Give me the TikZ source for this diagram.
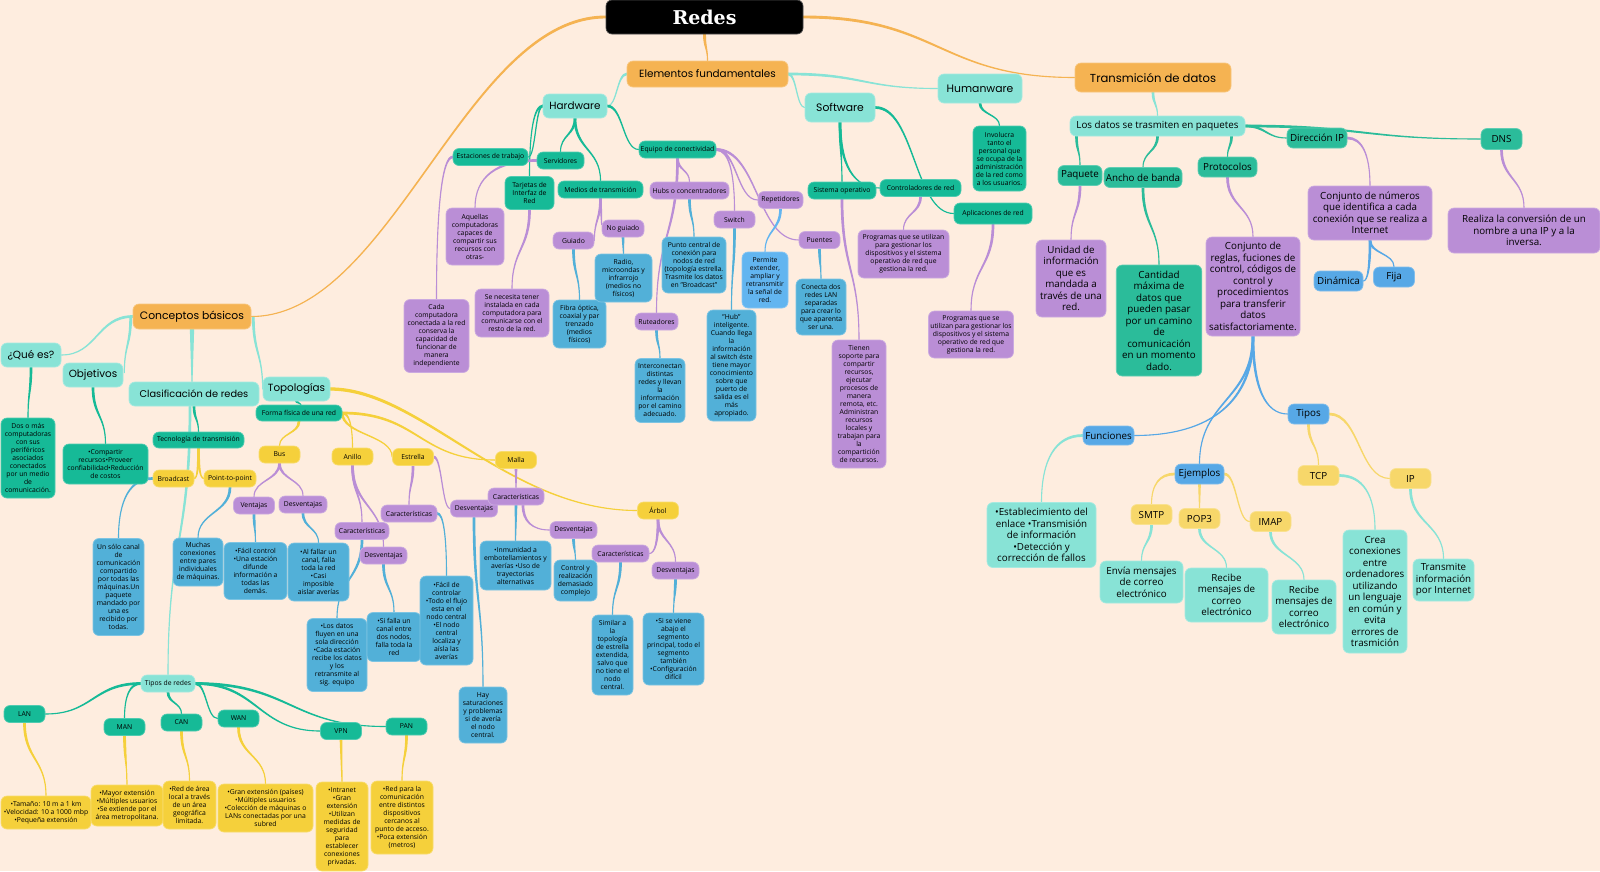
\documentclass[tikz,border=0pt]{standalone}
\usepackage{fontspec}
\setmainfont{Open Sans}
\newfontfamily\hwfont{Poppins}
\newfontfamily\slabfont{DejaVu Serif}
\usetikzlibrary{calc,backgrounds}
\definecolor{paper}{HTML}{FEEDDF}
\definecolor{cOr}{HTML}{F5B352}
\definecolor{cMi}{HTML}{88E3D6}
\definecolor{cGr}{HTML}{16BA97}
\definecolor{cGq}{HTML}{2BBC9A}
\definecolor{cPu}{HTML}{BA8ED6}
\definecolor{cBl}{HTML}{52B0D8}
\definecolor{cLb}{HTML}{62B5F0}
\definecolor{cDb}{HTML}{57A8E6}
\definecolor{cYe}{HTML}{F5D03B}
\definecolor{cYl}{HTML}{F7D76A}
\tikzset{
 box/.style={rounded corners=6pt,inner sep=0pt,align=center,text=black,line width=.7pt,font=\fontsize{6.8}{8}\selectfont},
 big/.style={font=\fontsize{9.8}{11.5}\selectfont},
 nOr/.style={box,fill=cOr,draw=cOr!75!white},
 nMi/.style={box,fill=cMi,draw=cMi!75!white},
 nGr/.style={box,fill=cGr,draw=cGr!75!white},
 nGq/.style={box,fill=cGq,draw=cGq!75!white},
 nPu/.style={box,fill=cPu,draw=cPu!75!white},
 nBl/.style={box,fill=cBl,draw=cBl!75!white},
 nLb/.style={box,fill=cLb,draw=cLb!75!white},
 nDb/.style={box,fill=cDb,draw=cDb!75!white},
 nYe/.style={box,fill=cYe,draw=cYe!75!white},
 nYl/.style={box,fill=cYl,draw=cYl!75!white},
}
\newcommand\hd[2]{{\hwfont\fontsize{#1}{#1}\selectfont #2}}
\newcommand\nd[7]{\node[#6,minimum width=#4pt,minimum height=#5pt] (#1) at (#2,#3) {#7};}
\newcommand\lkbody[2]{\draw[#1,fill=#1,line width=1.1pt,line join=round] ($(cP)+(#2)$) .. controls ($(cA)+(#2)$) and (cB) .. (cC) .. controls (cB) and ($(cA)-(#2)$) .. ($(cP)-(#2)$) -- cycle;}
\newcommand\lkV[4][.8]{\path (#3) coordinate (cP) (#4) coordinate (cC);\path ($(cP)!.5!(cP |- cC)$) coordinate (cA) ($(cC)!.5!(cC |- cP)$) coordinate (cB);\lkbody{#2}{#1,0}}
\newcommand\lkH[4][.8]{\path (#3) coordinate (cP) (#4) coordinate (cC);\path ($(cP)!.5!(cC |- cP)$) coordinate (cA) ($(cC)!.5!(cP |- cC)$) coordinate (cB);\lkbody{#2}{0,#1}}
\newcommand\lkHV[4][.8]{\path (#3) coordinate (cP) (#4) coordinate (cC);\path ($(cP)!.65!(cC |- cP)$) coordinate (cA) ($(cC)!.65!(cC |- cP)$) coordinate (cB);\lkbody{#2}{0,#1}}
\newcommand\lkVH[4][.8]{\path (#3) coordinate (cP) (#4) coordinate (cC);\path ($(cP)!.65!(cP |- cC)$) coordinate (cA) ($(cC)!.65!(cP |- cC)$) coordinate (cB);\lkbody{#2}{#1,0}}
\begin{document}
\begin{tikzpicture}[x=1pt,y=-1pt]
\useasboundingbox (0,0) rectangle (1600,871);
% --- level 0/1
\node[box,fill=black,draw=black!70!white,minimum width=197pt,minimum height=34pt,text=white,font=\slabfont\bfseries\fontsize{19}{20}\selectfont] (redes) at (704.5,17) {Redes};
\nd{elem}{707.5}{74}{161}{26}{nOr}{\hd{10.4}{Elementos fundamentales}}
\nd{trans}{1153}{77.5}{156}{29}{nOr}{\hd{11.6}{Transmición de datos}}
\nd{conc}{192}{316.5}{118}{25}{nOr}{\hd{10.8}{Conceptos básicos}}
% --- mint headings
\nd{hard}{575}{106}{64}{24}{nMi}{\hd{10.4}{Hardware}}
\nd{soft}{840}{107.5}{70}{29}{nMi}{\hd{10.8}{Software}}
\nd{human}{980}{88.5}{84}{29}{nMi}{\hd{10.8}{Humanware}}
\nd{que}{31}{355}{60}{24}{nMi}{\hd{10.4}{¿Qué es?}}
\nd{obj}{93}{375}{60}{24}{nMi}{\hd{10.4}{Objetivos}}
\nd{clas}{194}{394}{130}{24}{nMi}{\hd{9.8}{Clasificación de redes}}
\nd{topo}{296.5}{389}{67}{24}{nMi}{\hd{10.4}{Topologías}}
% --- Hardware
\nd{esta}{490.5}{157}{75}{17}{nGr}{Estaciones de trabajo}
\nd{serv}{560.5}{160.5}{47}{17}{nGr}{Servidores}
\nd{tarj}{529.5}{193}{49}{33}{nGr}{Tarjetas de\\Interfaz de\\Red}
\nd{medi}{600.5}{189.5}{85}{17}{nGr}{Medios de transmición}
\nd{equi}{677.5}{149.5}{77}{17}{nGr}{Equipo de conectividad}
\nd{hubs}{689.5}{190.5}{79}{17}{nPu}{Hubs o concentradores}
\nd{repe}{780.5}{200}{45}{17}{nPu}{Repetidores}
\nd{swit}{734.5}{219.5}{41}{17}{nPu}{Switch}
\nd{nogu}{623}{228.5}{42}{17}{nPu}{No guiado}
\nd{guia}{573.5}{240.5}{41}{17}{nPu}{Guiado}
\nd{puen}{819.5}{240}{41}{17}{nPu}{Puentes}
\nd{aque}{475}{236.5}{58}{57}{nPu}{Aquellas\\computadoras\\capaces de\\compartir sus\\recursos con\\otras-}
\nd{cada}{436.5}{336}{65}{73}{nPu}{Cada\\computadora\\conectada a la red\\conserva la\\capacidad de\\funcionar de\\manera\\independiente}
\nd{sene}{512}{313}{74}{48}{nPu}{Se necesita tener\\instalada en cada\\computadora para\\comunicarse con el\\resto de la red.}
\nd{fibr}{579.5}{324}{53}{48}{nBl}{Fibra óptica,\\coaxial y par\\trenzado\\(medios\\físicos)}
\nd{radi}{623.5}{278}{57}{48}{nBl}{Radio,\\microondas y\\infrarrojo\\(medios no\\físicos)}
\nd{punt}{694}{265}{64}{56}{nBl}{Punto central de\\conexión para\\nodos de red\\(topología estrella.\\Trasmite los datos\\en "Broadcast"}
\nd{rute}{656.5}{321.5}{43}{17}{nPu}{Ruteadores}
\nd{inte}{660}{390.5}{50}{64}{nBl}{Interconectan\\distintas\\redes y llevan\\la\\información\\por el camino\\adecuado.}
\nd{hubi}{731.5}{365.5}{49}{111}{nBl}{"Hub"\\inteligente.\\Cuando llega\\la\\información\\al switch éste\\tiene mayor\\conocimiento\\sobre que\\puerto de\\salida es el\\más\\apropiado.}
\nd{perm}{765}{280}{46}{56}{nLb}{Permite\\extender,\\ampliar y\\retransmitir\\la señal de\\red.}
\nd{cone}{821}{307}{50}{56}{nBl}{Conecta dos\\redes LAN\\separadas\\para crear lo\\que aparenta\\ser una.}
% --- Software
\nd{sist}{842}{190.5}{68}{17}{nGr}{Sistema operativo}
\nd{ctrl}{920.5}{188}{81}{17}{nGr}{Controladores de red}
\nd{apli}{993}{213.5}{78}{21}{nGr}{Aplicaciones de red}
\nd{tien}{859}{404}{54}{128}{nPu}{Tienen\\soporte para\\compartir\\recursos,\\ejecutar\\procesos de\\manera\\remota, etc.\\Administran\\recursos\\locales y\\trabajan para\\la\\compartición\\de recursos.}
\nd{prga}{903.5}{254}{91}{48}{nPu}{Programas que se utilizan\\para gestionar los\\dispositivos y el sistema\\operativo de red que\\gestiona la red.}
\nd{prgb}{971}{334.5}{85}{47}{nPu}{Programas que se\\utilizan para gestionar los\\dispositivos y el sistema\\operativo de red que\\gestiona la red.}
\nd{invo}{999.5}{158.5}{53}{65}{nGr}{Involucra\\tanto el\\personal que\\se ocupa de la\\administración\\de la red como\\a los usuarios.}
% --- Transmision
\nd{dato}{1157.5}{126}{175}{20}{nMi,big}{Los datos se trasmiten en paquetes}
\nd{paqu}{1080}{175.5}{44}{20}{nGq,big}{Paquete}
\nd{anch}{1143}{177.5}{78}{20}{nGq,big}{Ancho de banda}
\nd{prot}{1227.5}{167}{59}{20}{nGq,big}{Protocolos}
\nd{dire}{1317}{138}{60}{20}{nGq,big}{Dirección IP}
\nd{dns}{1501.5}{139}{41}{21}{nGq,big}{DNS}
\nd{unid}{1071}{278.5}{70}{77}{nPu,big}{Unidad de\\información\\que es\\mandada a\\través de una\\red.}
\nd{cant}{1159}{320.5}{85.5}{111}{nGq,big}{Cantidad\\máxima de\\datos que\\pueden pasar\\por un camino\\de\\comunicación\\en un momento\\dado.}
\nd{regl}{1253}{286.5}{94}{99}{nPu,big}{Conjunto de\\reglas, fuciones de\\control, códigos de\\control y\\procedimientos\\para transferir\\datos\\satisfactoriamente.}
\nd{nume}{1370}{213}{124}{54}{nPu,big}{Conjunto de números\\que identifica a cada\\conexión que se realiza a\\Internet}
\nd{real}{1524}{230.5}{152}{45}{nPu,big}{Realiza la conversión de un\\nombre a una IP y a la\\inversa.}
\nd{dina}{1338.5}{281}{49}{20}{nDb,big}{Dinámica}
\nd{fija}{1394}{277}{41}{20}{nDb,big}{Fija}
\nd{tipo}{1308.5}{414}{41}{20}{nDb,big}{Tipos}
\nd{func}{1108.5}{435.5}{51}{19}{nDb,big}{Funciones}
\nd{ejem}{1199.5}{474}{49}{20}{nDb,big}{Ejemplos}
\nd{tcp}{1318.5}{475.5}{41}{20}{nYl,big}{TCP}
\nd{ipn}{1410.5}{478.5}{41}{20}{nYl,big}{IP}
\nd{smtp}{1151.5}{514.5}{41}{20}{nYl,big}{SMTP}
\nd{pop}{1199.5}{518.5}{41}{20}{nYl,big}{POP3}
\nd{imap}{1270.5}{521.5}{41}{20}{nYl,big}{IMAP}
\nd{esbl}{1041.5}{535}{109}{65}{nMi,big}{•Establecimiento del\\enlace •Transmisión\\de información\\•Detección y\\corrección de fallos}
\nd{envi}{1141.5}{582}{83}{42}{nMi,big}{Envía mensajes\\de correo\\electrónico}
\nd{reca}{1226.5}{595}{83}{54}{nMi,big}{Recibe\\mensajes de\\correo\\electrónico}
\nd{recb}{1304}{607}{64}{54}{nMi,big}{Recibe\\mensajes de\\correo\\electrónico}
\nd{crea}{1375}{591.5}{64}{123}{nMi,big}{Crea\\conexiones\\entre\\ordenadores\\utilizando\\un lenguaje\\en común y\\evita\\errores de\\trasmición}
\nd{tran}{1443.5}{580}{61}{42}{nMi,big}{Transmite\\información\\por Internet}
% --- Conceptos
\nd{dosm}{28}{458}{54}{80}{nGr}{Dos o más\\computadoras\\con sus\\periféricos\\asociados\\conectados\\por un medio\\de\\comunicación.}
\nd{comp}{105.5}{464}{85}{40}{nGr}{•Compartir\\recursos•Proveer\\confiabilidad•Reducción\\de costos}
\nd{form}{299}{413}{86}{16}{nGr}{Forma física de una red}
\nd{tecn}{198.5}{440}{91}{16}{nGr}{Tecnología de transmisión}
\nd{broa}{173.5}{478.5}{41}{17}{nYe}{Broadcast}
\nd{poin}{230}{478.5}{52}{17}{nYe}{Point-to-point}
\nd{bus}{279.5}{454.5}{41}{17}{nYe}{Bus}
\nd{anil}{352.5}{456.5}{41}{17}{nYe}{Anillo}
\nd{estr}{413}{457}{41}{17}{nYe}{Estrella}
\nd{mall}{516}{460}{41}{17}{nYe}{Malla}
\nd{arbo}{658}{510.5}{41}{17}{nYe}{Árbol}
\nd{vent}{254}{505.5}{41}{17}{nPu}{Ventajas}
\nd{dbus}{303}{504.5}{48}{17}{nPu}{Desventajas}
\nd{canl}{362}{531}{54}{17}{nPu}{Características}
\nd{danl}{383.5}{555.5}{47}{17}{nPu}{Desventajas}
\nd{cest}{409}{513.5}{56}{17}{nPu}{Características}
\nd{dest}{474}{508.5}{47}{17}{nPu}{Desventajas}
\nd{cmal}{516}{496.5}{56}{17}{nPu}{Características}
\nd{dmal}{573.5}{530}{47}{17}{nPu}{Desventajas}
\nd{carb}{620.5}{553.5}{57}{17}{nPu}{Características}
\nd{darb}{675.5}{570.5}{47}{17}{nPu}{Desventajas}
\nd{unso}{118.5}{587}{51}{97}{nBl}{Un sólo canal\\de\\comunicación\\compartido\\por todas las\\máquinas.Un\\paquete\\mandado por\\una es\\recibido por\\todas.}
\nd{much}{198}{562}{50}{48}{nBl}{Muchas\\conexiones\\entre pares\\individuales\\de máquinas.}
\nd{facc}{255.5}{571}{63}{57}{nBl}{•Fácil control\\•Una estación\\difunde\\información a\\todas las\\demás.}
\nd{alfa}{318.5}{572}{61}{58}{nBl}{•Al fallar un\\canal, falla\\toda la red\\•Casi\\imposible\\aislar averías}
\nd{losd}{337}{655}{60}{73}{nBl}{•Los datos\\fluyen en una\\sola dirección\\•Cada estación\\recibe los datos\\y los\\retransmite al\\sig. equipo}
\nd{sifa}{394}{637}{54}{49}{nBl}{•Si falla un\\canal entre\\dos nodos,\\falla toda la\\red}
\nd{facd}{446.5}{620.5}{53}{89}{nBl}{•Fácil de\\controlar\\•Todo el flujo\\esta en el\\nodo central\\•El nodo\\central\\localiza y\\aísla las\\averías}
\nd{inmu}{515.5}{565.5}{71}{49}{nBl}{•Inmunidad a\\embotellamientos y\\averías •Uso de\\trayectorias\\alternativas}
\nd{ctry}{575.5}{580.5}{43}{41}{nBl}{Control y\\realización\\demasiado\\complejo}
\nd{simi}{612.5}{655}{41}{80}{nBl}{Similar a\\la\\topología\\de estrella\\extendida,\\salvo que\\no tiene el\\nodo\\central.}
\nd{sise}{673.5}{649}{61}{72}{nBl}{•Si se viene\\abajo el\\segmento\\principal, todo el\\segmento\\también\\•Configuración\\difícil}
\nd{hays}{483}{715}{48}{56}{nBl}{Hay\\saturaciones\\y problemas\\si de avería\\el nodo\\central.}
% --- Tipos de redes
\nd{tipr}{168}{683.5}{54}{17}{nMi}{Tipos de redes}
\nd{lan}{24.5}{714}{41}{17}{nGr}{LAN}
\nd{man}{124.5}{727}{41}{17}{nGr}{MAN}
\nd{can}{181.5}{722.5}{41}{17}{nGr}{CAN}
\nd{wan}{238.5}{718.5}{41}{17}{nGr}{WAN}
\nd{vpn}{341}{731}{41}{17}{nGr}{VPN}
\nd{pan}{406.5}{726.5}{41}{17}{nGr}{PAN}
\nd{tama}{46}{812.5}{90}{33}{nYe}{•Tamaño: 10 m a 1 km\\•Velocidad: 10 a 1000 mbp\\•Pequeña extensión}
\nd{mayo}{127}{805.5}{72}{41}{nYe}{•Mayor extensión\\•Múltiples usuarios\\•Se extiende por el\\área metropolitana.}
\nd{rede}{189.5}{805}{53}{48}{nYe}{•Red de área\\local a través\\de un área\\geográfica\\limitada.}
\nd{gran}{265.5}{808}{95}{48}{nYe}{•Gran extensión (países)\\•Múltiples usuarios\\•Colección de máquinas o\\LANs conectadas por una\\subred}
\nd{intr}{342}{826.5}{52}{89}{nYe}{•Intranet\\•Gran\\extensión\\•Utilizan\\medidas de\\seguridad\\para\\establecer\\conexiones\\privadas.}
\nd{repa}{402}{817.5}{62}{73}{nYe}{•Red para la\\comunicación\\entre distintos\\dispositivos\\cercanos al\\punto de acceso.\\•Poca extensión\\(metros)}
% ===== connectors
\begin{scope}[on background layer]
\fill[paper] (0,0) rectangle (1600,871);
\path (redes.west) coordinate (cP) (conc.east) coordinate (cC);
\path ($(cP)+(-140,0)$) coordinate (cA) ($(cC)+(140,0)$) coordinate (cB);
\lkbody{cOr}{0,.9}
\lkV[.9]{cOr}{redes.south}{elem.north}
\lkH[.9]{cOr}{redes.east}{trans.west}
\lkH{cMi}{elem.west}{hard.east}
\lkH{cMi}{elem.east}{soft.west}
\lkH{cMi}{elem.east}{human.west}
\lkH{cMi}{conc.west}{que.east}
\lkV{cMi}{$(conc.south west)+(-2,-12)$}{$(obj.north east)+(1,10)$}
\lkV[1.6]{cMi}{conc.south}{$(clas.north)+(-2,0)$}
\lkV{cMi}{$(conc.south east)+(2,-12)$}{$(topo.west)$}
\lkV{cMi}{$(clas.south)+(-4,0)$}{tipr.north}
\lkV{cGr}{clas.south}{$(tecn.north)+(0,0)$}
\lkV{cGr}{$(topo.south)+(0,0)$}{$(form.north)+(2,0)$}
\lkV{cGr}{que.south}{dosm.north}
\lkV{cGr}{obj.south}{comp.north}
\lkVH{cYe}{tecn.south}{broa.east}
\lkVH{cYe}{tecn.south}{poin.west}
\lkHV{cBl}{broa.west}{unso.north}
\lkV{cBl}{poin.south}{much.north}
\lkV{cYe}{form.south}{bus.north}
\lkHV{cYe}{form.east}{anil.north}
\lkV{cYe}{form.east}{estr.west}
\lkH{cYe}{form.east}{mall.west}
\path (topo.east) coordinate (cP) (arbo.west) coordinate (cC);
\path ($(cP)+(90,0)$) coordinate (cA) ($(cC)+(-130,0)$) coordinate (cB);
\lkbody{cYe}{0,1.1}
\lkV{cPu}{bus.south}{vent.north}
\lkV{cPu}{bus.south}{dbus.north}
\lkV{cBl}{vent.south}{facc.north}
\lkV{cBl}{dbus.south}{alfa.north}
\lkV{cPu}{anil.south}{canl.north}
\lkV{cPu}{anil.south}{danl.north}
\lkV{cBl}{canl.south}{losd.north}
\lkV{cBl}{danl.south}{sifa.north}
\lkV{cPu}{estr.south}{cest.north}
\lkH{cPu}{estr.east}{dest.west}
\lkHV{cBl}{cest.east}{facd.north}
\lkV{cBl}{dest.south}{hays.north}
\lkV{cPu}{mall.south}{cmal.north}
\lkV{cBl}{cmal.south}{inmu.north}
\lkVH{cPu}{$(cmal.south)+(7,0)$}{dmal.west}
\lkV{cBl}{dmal.south}{ctry.north}
\lkVH{cPu}{arbo.south}{carb.east}
\lkV{cPu}{arbo.south}{darb.north}
\lkV{cBl}{carb.south}{simi.north}
\lkV{cBl}{darb.south}{sise.north}
\lkH{cGr}{tipr.west}{lan.east}
\lkHV{cGr}{tipr.west}{man.north}
\lkV{cGr}{tipr.south}{can.north}
\lkH{cGr}{tipr.east}{wan.west}
\lkH{cGr}{tipr.east}{vpn.west}
\lkH{cGr}{tipr.east}{pan.west}
\lkV{cYe}{lan.south}{tama.north}
\lkV{cYe}{man.south}{mayo.north}
\lkV{cYe}{can.south}{rede.north}
\lkV{cYe}{wan.south}{gran.north}
\lkV{cYe}{vpn.south}{intr.north}
\lkV{cYe}{pan.south}{repa.north}
% hardware
\lkH{cGr}{hard.west}{esta.east}
\lkHV{cGr}{hard.west}{tarj.north}
\lkV{cGr}{hard.south}{serv.north}
\lkV{cGr}{hard.south}{medi.north}
\lkH{cGr}{hard.east}{equi.west}
\lkHV{cPu}{esta.west}{cada.north}
\lkHV{cPu}{serv.west}{aque.north}
\lkV{cPu}{tarj.south}{sene.north}
\lkV{cPu}{medi.south}{$(nogu.north west)+(0,5)$}
\lkV{cPu}{medi.south}{guia.east}
\lkV{cBl}{guia.south}{fibr.north}
\lkV{cBl}{nogu.south}{radi.north}
\lkV{cPu}{equi.south}{hubs.north}
\lkV{cPu}{equi.south}{rute.north}
\lkHV{cPu}{equi.east}{swit.north}
\lkH{cPu}{equi.east}{repe.west}
\lkH{cPu}{equi.east}{puen.west}
\lkV{cBl}{hubs.south}{punt.north}
\lkV{cBl}{swit.south}{hubi.north}
\lkV{cLb}{repe.south}{perm.north}
\lkV{cBl}{puen.south}{cone.north}
\lkV{cBl}{rute.south}{inte.north}
% software
\lkV{cGr}{soft.south}{sist.north}
\lkVH{cGr}{soft.south}{ctrl.west}
\lkH{cGr}{soft.east}{apli.west}
\lkV{cPu}{sist.south}{tien.north}
\lkV{cPu}{ctrl.south}{prga.north}
\lkV{cPu}{apli.south}{prgb.north}
\lkV{cGr}{human.south}{invo.north}
% transmision
\lkV{cMi}{trans.south}{dato.north}
\lkV{cGq}{$(dato.south)+(-81,0)$}{paqu.north}
\lkV{cGq}{dato.south}{anch.north}
\lkV{cGq}{$(dato.south)+(74,0)$}{prot.north}
\lkH{cGq}{dato.east}{dire.west}
\lkH{cGq}{dato.east}{dns.west}
\lkV{cPu}{paqu.south}{unid.north}
\lkV{cGq}{anch.south}{cant.north}
\lkV{cPu}{prot.south}{regl.north}
\lkHV{cPu}{dire.east}{nume.north}
\lkV{cPu}{dns.south}{real.north}
\lkVH{cDb}{nume.south}{dina.east}
\lkV{cDb}{nume.south}{fija.north}
\lkVH{cDb}{regl.south}{func.east}
\lkV{cDb}{regl.south}{ejem.north}
\lkVH{cDb}{regl.south}{tipo.west}
\lkHV{cMi}{func.west}{esbl.north}
\lkHV{cYl}{ejem.west}{smtp.north}
\lkV{cYl}{ejem.south}{pop.north}
\lkH{cYl}{ejem.east}{imap.west}
\lkV{cYl}{tipo.south}{tcp.north}
\lkH{cYl}{tipo.east}{ipn.west}
\lkV{cMi}{smtp.south}{envi.north}
\lkV{cMi}{pop.south}{reca.north}
\lkV{cMi}{imap.south}{recb.north}
\lkHV{cMi}{tcp.east}{crea.north}
\lkV{cMi}{ipn.south}{tran.north}
\end{scope}
\end{tikzpicture}
\end{document}
